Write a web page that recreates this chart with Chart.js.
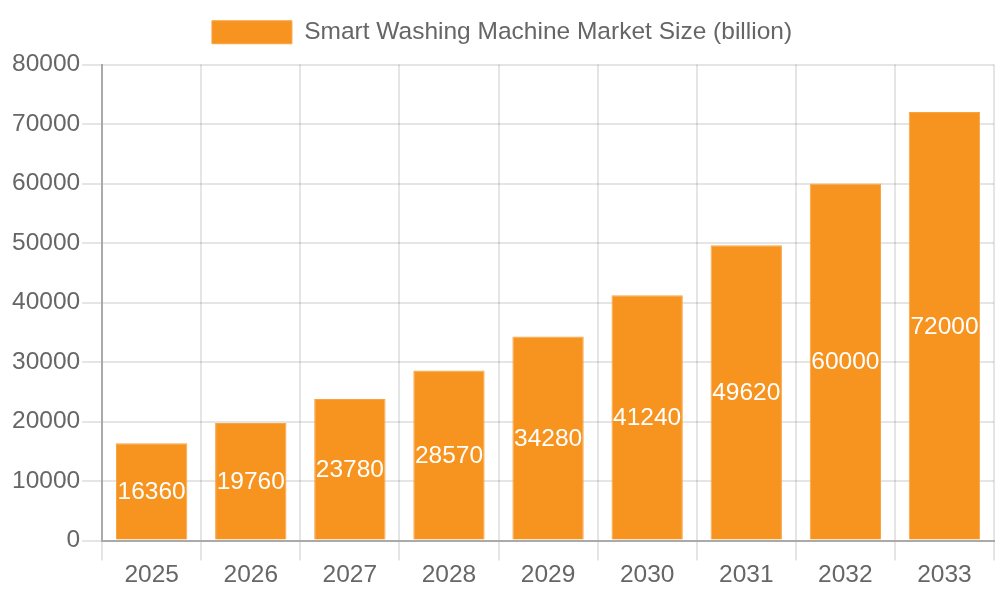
<!DOCTYPE html>
<html>
<head>
<meta charset="utf-8">
<script src="https://cdn.jsdelivr.net/npm/chart.js@4"></script>
<style>
  html, body { margin: 0; padding: 0; background: #fff; }
  #wrap { width: 1000px; height: 600px; }
</style>
</head>
<body>
<div id="wrap"><canvas id="myBar"></canvas></div>
<script>
const years = ['2025', '2026', '2027', '2028', '2029', '2030', '2031', '2032', '2033']
const marketSize = [16360, 19760, 23780, 28570, 34280, 41240, 49620, 60000, 72000]
const seriesName = 'Smart Washing Machine Market Size (billion)'

// write each value in the middle of its bar
const barLabels = {
    id: 'barLabels',
    afterDatasetsDraw(chart) {
        let ctx = chart.ctx
        let meta = chart.getDatasetMeta(0)
        ctx.save()
        ctx.fillStyle = '#ffffff'
        ctx.font = '24.5px "Liberation Sans", Arial, sans-serif'
        ctx.textAlign = 'center'
        ctx.textBaseline = 'middle'
        meta.data.forEach((bar, i) => {
            let mid = (bar.y + bar.base) / 2 + 1
            ctx.fillText(String(marketSize[i]), bar.x, mid)
        })
        ctx.restore()
    }
}

// a bit more room under the legend
const legendGap = {
    id: 'legendGap',
    beforeInit(chart) {
        let fit = chart.legend.fit
        chart.legend.fit = function () {
            fit.bind(chart.legend)()
            this.height += 10
        }
    }
}

Chart.defaults.font.family = '"Liberation Sans", Arial, sans-serif'
Chart.defaults.font.size = 24.5
Chart.defaults.color = '#666'

let ctx = document.querySelector('#myBar').getContext('2d')
let myBarChart = new Chart(ctx, {
    type: 'bar',
    data: {
        labels: years,
        datasets: [{
            label: seriesName,
            data: marketSize,
            backgroundColor: '#F7941F',
            borderColor: '#F9A443',
            borderWidth: 1
        }]
    },
    options: {
        responsive: true,
        maintainAspectRatio: false,
        animation: false,
        layout: { padding: { top: 10, left: 10, right: 6, bottom: 10 } },
        plugins: {
            legend: {
                labels: { boxWidth: 80, boxHeight: 23, padding: 10 }
            },
            tooltip: { enabled: false }
        },
        scales: {
            x: {
                grid: { color: 'rgba(0,0,0,0.1)', lineWidth: 2, tickLength: 20 },
                border: { color: '#aaa', width: 2 },
                ticks: { padding: 0 }
            },
            y: {
                min: 0,
                max: 80000,
                ticks: {
                    stepSize: 10000,
                    padding: 2,
                    callback: (v) => String(v)
                },
                grid: { color: 'rgba(0,0,0,0.1)', lineWidth: 2, tickLength: 20 },
                border: { color: '#aaa', width: 2 }
            }
        }
    },
    plugins: [barLabels, legendGap]
})
</script>
</body>
</html>
